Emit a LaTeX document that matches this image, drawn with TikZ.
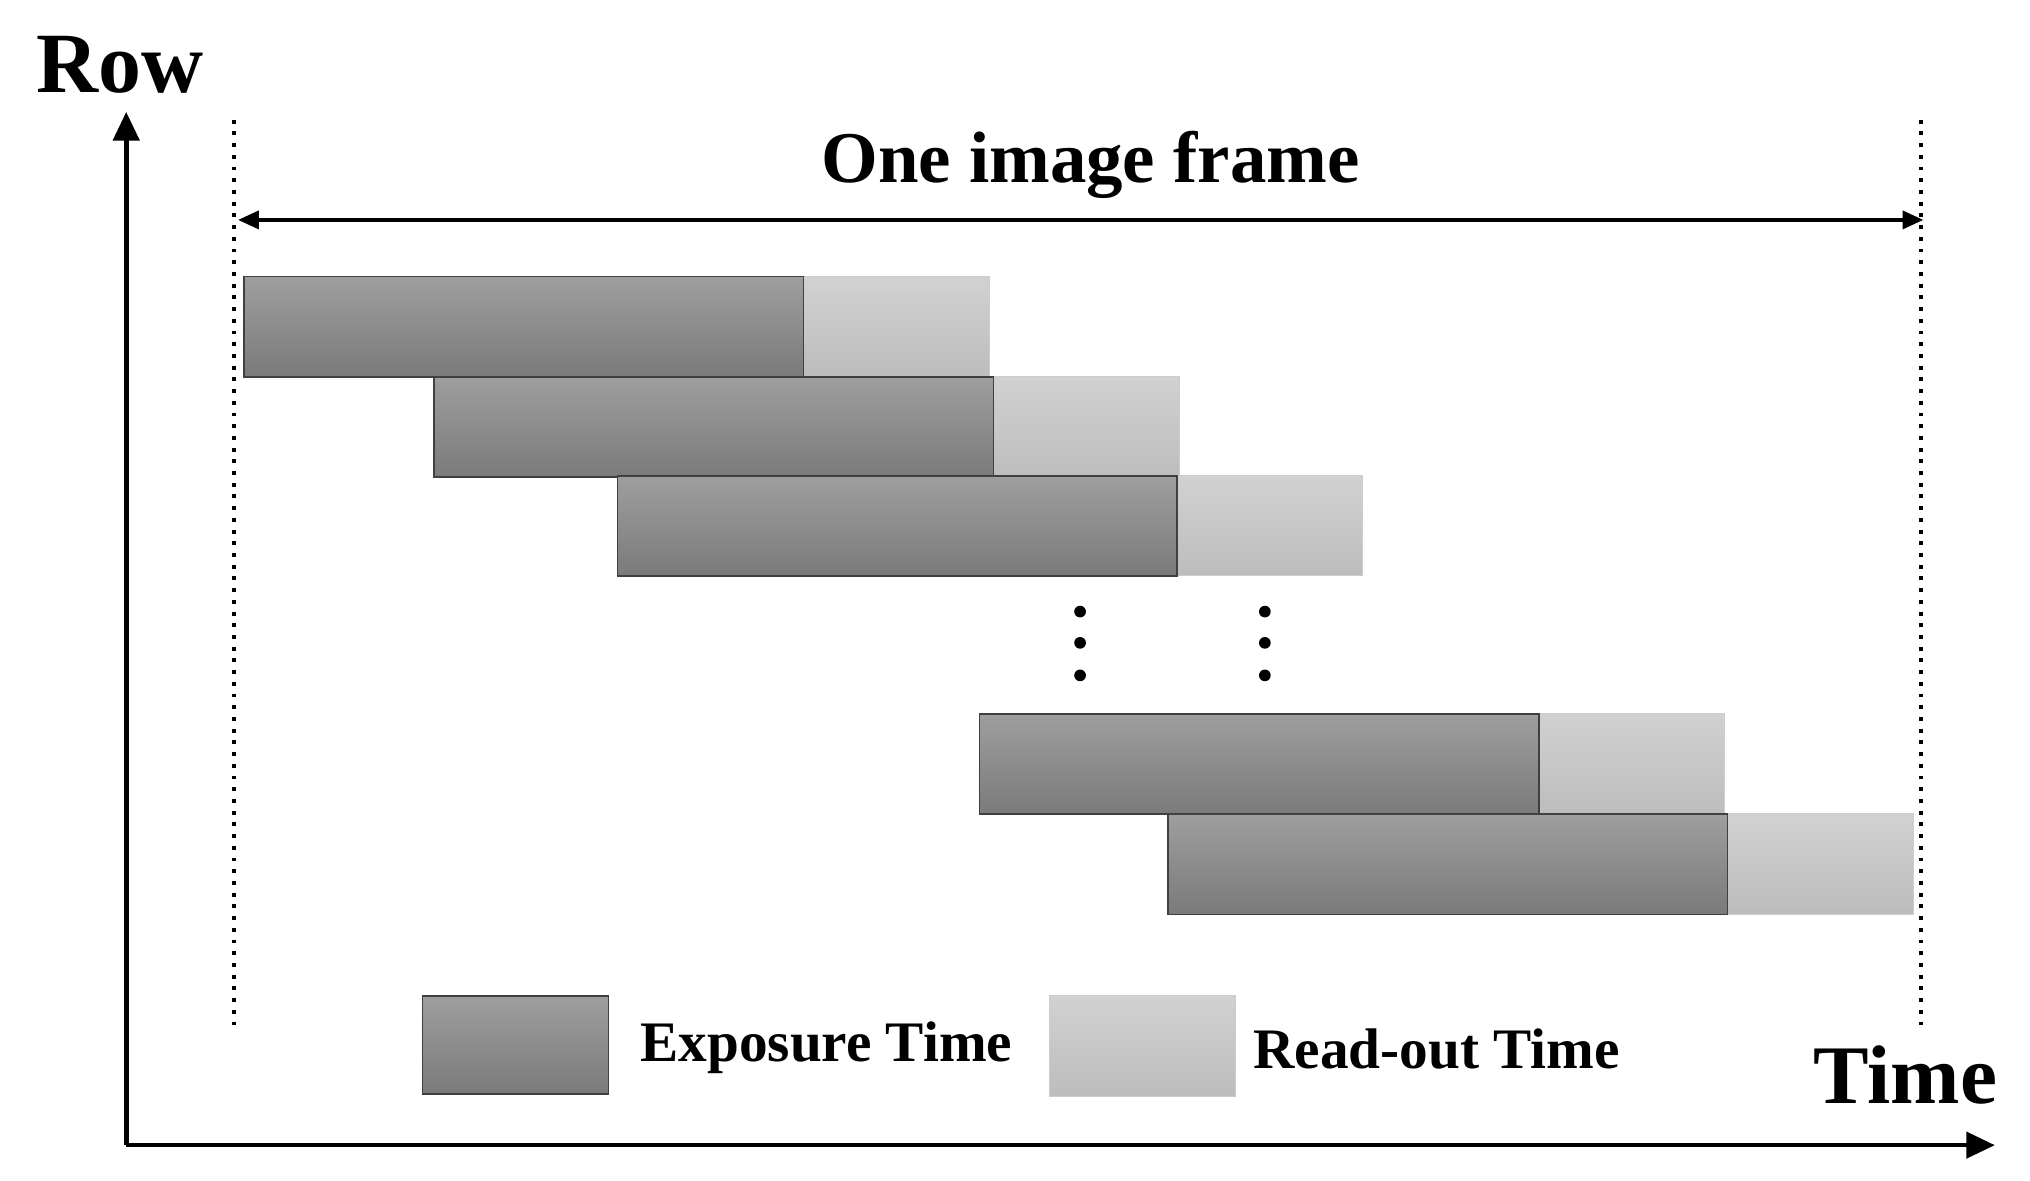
\documentclass[tikz,border=0pt]{standalone}
\usepackage{fontspec}
\setmainfont{Liberation Serif}
\usetikzlibrary{arrows.meta}
\begin{document}
\begin{tikzpicture}[x=1pt,y=-1pt,
  expo/.style={draw=black!75,line width=1.2pt,top color=black!38,bottom color=black!52,minimum width=430pt,minimum height=77pt,anchor=north west,inner sep=0pt},
  rdout/.style={draw=black!20,line width=0.6pt,top color=black!18,bottom color=black!26,minimum width=143pt,minimum height=77pt,anchor=north west,inner sep=0pt},
  dotline/.style={line width=3pt,dash pattern=on 3pt off 6pt},
  axis/.style={line width=3.5pt,-{Triangle[length=22pt,width=20pt]}},
  lbl/.style={font=\bfseries,inner sep=0pt},
  vdot/.style={circle,fill=black,minimum size=9pt,inner sep=0pt}]
\useasboundingbox (0,0) rectangle (1560,907);
% axes
\coordinate (o) at (97,880);
\coordinate (ytip) at (97,86);
\coordinate (xtip) at (1533,880);
\draw[axis] (o) -- (ytip);
\draw[axis] (o) -- (xtip);
\node[lbl,font=\fontsize{66}{66}\selectfont\bfseries,anchor=west] (row) at (28,50) {Row};
\node[lbl,font=\fontsize{64}{64}\selectfont\bfseries,anchor=east] (time) at (1535,826) {Time};
% dotted frame limits
\coordinate (l1) at (180,92); \coordinate (l2) at (180,790);
\coordinate (r1) at (1476,92); \coordinate (r2) at (1476,790);
\draw[dotline] (l1) -- (l2);
\draw[dotline] (r1) -- (r2);
\coordinate (a1) at (183,169); \coordinate (a2) at (1478,169);
\draw[line width=2.5pt,{Triangle[length=16pt,width=14pt]}-{Triangle[length=16pt,width=14pt]}] (a1) -- (a2);
\node[lbl,font=\fontsize{56}{56}\selectfont\bfseries] (title) at (838,127) {One image frame};
% bars
\foreach \i/\x/\y in {1/187/212,2/333/289,3/474/365,4/752/548,5/897/625}{
  \node[rdout] (r\i) at (\x+430,\y) {};
  \node[expo] (e\i) at (\x,\y) {};
}
% dots
\foreach \x [count=\k] in {830,972}{
  \foreach \y [count=\j] in {470,494,519} \node[vdot] (d\k\j) at (\x,\y) {};
}
% legend
\node[expo,minimum width=143pt,minimum height=75pt] (le) at (324,765) {};
\node[lbl,font=\fontsize{44}{44}\selectfont\bfseries,anchor=west] (let) at (492,805) {Exposure Time};
\node[rdout,minimum height=77pt] (lr) at (806,765) {};
\node[lbl,font=\fontsize{44}{44}\selectfont\bfseries,anchor=west] (lrt) at (963,806) {Read-out Time};
\end{tikzpicture}
\end{document}
